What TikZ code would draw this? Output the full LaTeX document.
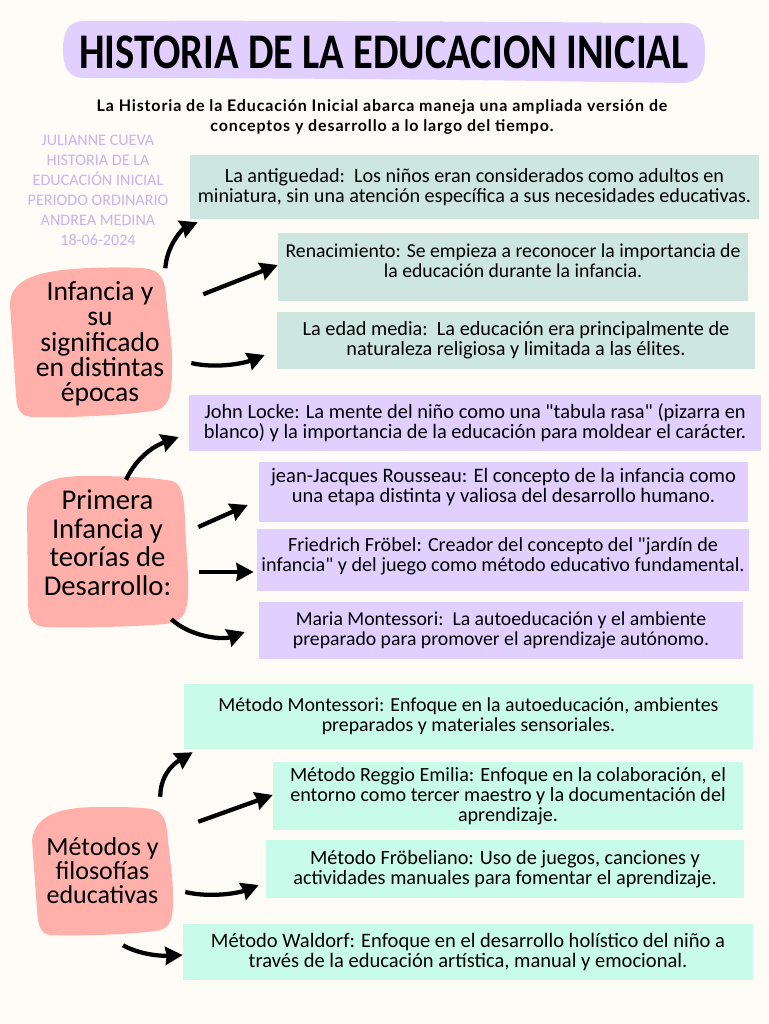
\documentclass[tikz,border=0pt]{standalone}
\usepackage{fontspec}
\setmainfont{Carlito}
\newfontfamily\subfont[LetterSpace=5.4]{Lato}
\newfontfamily\rectafont{Carlito}
\newcommand{\comilla}{{\rectafont"}}
\usetikzlibrary{arrows.meta}
\definecolor{fondo}{HTML}{FFFBF7}
\definecolor{lila}{HTML}{E0CFFF}
\definecolor{lilatxt}{HTML}{C5B4EE}
\definecolor{verde}{HTML}{CDE6DF}
\definecolor{menta}{HTML}{C8FBEA}
\definecolor{rosa}{HTML}{FFB0AA}
\tikzset{
  caja/.style n args={4}{rectangle,fill=#1,minimum width=#2*.75pt,minimum height=#3*.75pt,inner sep=0pt,align=center,font=\fontsize{#4}{15}\selectfont},
  nube/.style 2 args={rectangle,minimum width=#1*.75pt,minimum height=#2*.75pt,inner sep=0pt,align=center},
  flecha/.style={line width=3.2pt,-{Stealth[length=13pt,width=13.5pt,inset=1pt]},line join=round}
}
\begin{document}
\begin{tikzpicture}[x=.75pt,y=-.75pt]
\useasboundingbox (0,0) rectangle (768,1024);
\fill[fondo] (0,0) rectangle (768,1024);
%Titulo
\fill[lila] (63,45) .. controls (65,28) and (70,21) .. (85,21) .. controls (300,20) and (500,22) .. (685,23) .. controls (700,24) and (705,32) .. (705,52) .. controls (705,72) and (700,83) .. (680,83) .. controls (500,80) and (300,78) .. (85,78) .. controls (70,78) and (62,70) .. (63,45) -- cycle;
\node[nube={642}{63},font=\fontsize{34}{36}\selectfont\bfseries] (titulo) at (384,52) {\scalebox{.894}[1.1]{HISTORIA DE LA EDUCACION INICIAL}};
\node[align=center,inner sep=0pt,font=\subfont\fontsize{12}{15}\selectfont\bfseries] (intro) at (382,117) {La Historia de la Educación Inicial abarca maneja una ampliada versión de\\conceptos y desarrollo a lo largo del tiempo.};
\node[align=center,inner sep=0pt,text=lilatxt,font=\fontsize{12.1}{15}\selectfont] (autor) at (98,190) {JULIANNE CUEVA\\HISTORIA DE LA\\EDUCACIÓN INICIAL\\PERIODO ORDINARIO\\ANDREA MEDINA\\18-06-2024};
%Nubes
\fill[rosa] (10,305) .. controls (10,280) and (35,270) .. (90,268) .. controls (120,267) and (145,267) .. (152,270) .. controls (162,273) and (165,283) .. (166,295) .. controls (168,320) and (173,345) .. (172,365) .. controls (172,385) and (172,405) .. (158,410) .. controls (130,415) and (70,418) .. (35,417) .. controls (20,417) and (17,410) .. (16,395) -- cycle;
\fill[rosa] (27,510) .. controls (28,485) and (50,476) .. (85,476) .. controls (120,476) and (150,477) .. (172,481) .. controls (182,484) and (184,495) .. (185,520) .. controls (186,550) and (189,575) .. (188,595) .. controls (187,615) and (182,622) .. (165,624) .. controls (130,627) and (80,628) .. (45,627) .. controls (32,626) and (28,618) .. (28,600) -- cycle;
\fill[rosa] (32,840) .. controls (35,815) and (60,807) .. (100,807) .. controls (125,807) and (150,807) .. (157,811) .. controls (165,815) and (167,825) .. (168,840) .. controls (170,860) and (174,885) .. (173,905) .. controls (172,925) and (168,929) .. (155,931) .. controls (125,935) and (75,936) .. (50,935) .. controls (40,934) and (38,925) .. (37,910) -- cycle;
\node[nube={144}{149},font=\fontsize{20.7}{19}\selectfont] (infancia) at (100,344) {Infancia y\\su\\significado\\en distintas\\épocas};
\node[nube={161}{152},font=\fontsize{21.5}{21.5}\selectfont] (primera) at (107.5,552) {Primera\\Infancia y\\teorías de\\Desarrollo:\\[-7.5pt]\mbox{}};
\node[nube={141}{128},font=\fontsize{19.5}{18}\selectfont] (metodos) at (102.5,871) {Métodos y\\filosofías\\educativas};
%Cajas
\node[caja={verde}{569}{64}{15.1}] (antiguedad) at (474.5,187) {La antiguedad:\ \ Los niños eran considerados como adultos en\\miniatura, sin una atención específica a sus necesidades educativas.};
\node[caja={verde}{470}{68}{14.8}] (renacimiento) at (513,267) {Renacimiento: Se empieza a reconocer la importancia de\\la educación durante la infancia.\\[-5pt]\mbox{}};
\node[caja={verde}{478}{57}{15.2}] (media) at (516,340.5) {La edad media:\ \ La educación era principalmente de\\naturaleza religiosa y limitada a las élites.};
\node[caja={lila}{572}{56}{15.3}] (locke) at (475,423) {John Locke: La mente del niño como una \comilla tabula rasa\comilla{} (pizarra en\\blanco) y la importancia de la educación para moldear el carácter.};
\node[caja={lila}{489}{60}{15.4}] (rousseau) at (503.5,492) {jean-Jacques Rousseau: El concepto de la infancia como\\una etapa distinta y valiosa del desarrollo humano.\\[-5pt]\mbox{}};
\node[caja={lila}{492}{62}{15.1}] (frobel) at (503,560) {Friedrich Fröbel: Creador del concepto del \comilla jardín de\\infancia\comilla{} y del juego como método educativo fundamental.\\[-7pt]\mbox{}};
\node[caja={lila}{484}{57}{14.8}] (montessori) at (501,630.5) {Maria Montessori:\ \ La autoeducación y el ambiente\\preparado para promover el aprendizaje autónomo.};
\node[caja={menta}{569}{65}{14.9}] (metodoa) at (468.5,716.5) {Método Montessori: Enfoque en la autoeducación, ambientes\\preparados y materiales sensoriales.};
\node[caja={menta}{470}{68}{15.1}] (metodob) at (508,796) {Método Reggio Emilia: Enfoque en la colaboración, el\\entorno como tercer maestro y la documentación del\\aprendizaje.};
\node[caja={menta}{478}{58}{15.2}] (metodoc) at (505,869) {Método Fröbeliano: Uso de juegos, canciones y\\actividades manuales para fomentar el aprendizaje.};
\node[caja={menta}{570}{56}{15.4}] (metodod) at (468,952) {Método Waldorf: Enfoque en el desarrollo holístico del niño a\\través de la educación artística, manual y emocional.};
%Flechas
\draw[flecha] ([shift={(-7,-1)}]infancia.north east) .. controls +(2,-25) and +(-14,6) .. ([shift={(8,3)}]antiguedad.south west);
\draw[flecha] ([shift={(31,25)}]infancia.north east) -- ([shift={(0,-2)}]renacimiento.west);
\draw[flecha] ([shift={(19,19)}]infancia.east) .. controls +(25,6) and +(-20,8) .. ([shift={(-12,14.5)}]media.west);
\draw[flecha] ([shift={(18.5,4)}]primera.north) .. controls +(12,-25) and +(-22,8) .. ([shift={(-10,14)}]locke.west);
\draw[flecha] ([shift={(10,-25)}]primera.east) -- ([shift={(-11,13)}]rousseau.west);
\draw[flecha] ([shift={(11,20)}]primera.east) -- ([shift={(-3,12)}]frobel.west);
\draw[flecha] ([shift={(-17,-9)}]primera.south east) .. controls +(20,18) and +(-22,8) .. ([shift={(-14,1.5)}]montessori.west);
\draw[flecha] ([shift={(-13,-10)}]metodos.north east) .. controls +(0,-25) and +(-15,9) .. ([shift={(9,3)}]metodoa.south west);
\draw[flecha] ([shift={(25,15)}]metodos.north east) -- ([shift={(0,-1)}]metodob.west);
\draw[flecha] ([shift={(12,21)}]metodos.east) .. controls +(25,6) and +(-20,8) .. ([shift={(-7,16)}]metodoc.west);
\draw[flecha] ([shift={(20.5,10)}]metodos.south) .. controls +(18,10) and +(-20,1) .. ([shift={(0,3)}]metodod.west);
\end{tikzpicture}
\end{document}
